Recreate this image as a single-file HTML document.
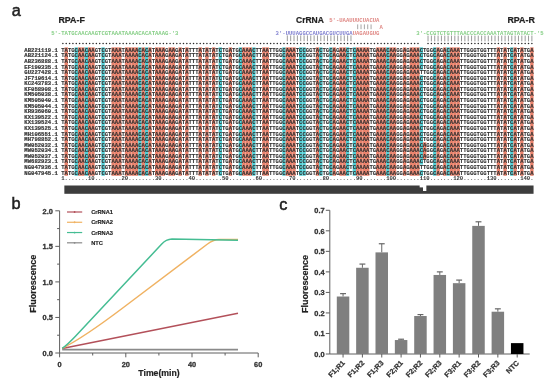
<!DOCTYPE html>
<html><head><meta charset="utf-8"><style>
html,body{margin:0;padding:0;background:#fff;width:550px;height:387px;overflow:hidden;}
svg{display:block;will-change:transform;}
</style></head><body>
<svg width="550" height="387" viewBox="0 0 550 387">
<rect width="550" height="387" fill="#fff"/>
<rect x="64.55" y="47.36" width="3.35" height="128.41" fill="#e9826c"/>
<rect x="74.60" y="47.36" width="3.35" height="128.41" fill="#52d0d6"/>
<rect x="77.95" y="47.36" width="3.35" height="128.41" fill="#e9826c"/>
<rect x="81.30" y="47.36" width="3.35" height="128.41" fill="#e9826c"/>
<rect x="84.65" y="47.36" width="3.35" height="128.41" fill="#52d0d6"/>
<rect x="88.00" y="47.36" width="3.35" height="128.41" fill="#e9826c"/>
<rect x="91.35" y="47.36" width="3.35" height="128.41" fill="#e9826c"/>
<rect x="101.40" y="47.36" width="3.35" height="128.41" fill="#52d0d6"/>
<rect x="111.45" y="47.36" width="3.35" height="128.41" fill="#e9826c"/>
<rect x="114.80" y="47.36" width="3.35" height="128.41" fill="#e9826c"/>
<rect x="118.15" y="47.36" width="3.35" height="128.41" fill="#e9826c"/>
<rect x="124.85" y="47.36" width="3.35" height="128.41" fill="#e9826c"/>
<rect x="128.20" y="47.36" width="3.35" height="128.41" fill="#e9826c"/>
<rect x="131.55" y="47.36" width="3.35" height="128.41" fill="#e9826c"/>
<rect x="134.90" y="47.36" width="3.35" height="128.41" fill="#e9826c"/>
<rect x="138.25" y="47.36" width="3.35" height="128.41" fill="#52d0d6"/>
<rect x="141.60" y="47.36" width="3.35" height="128.41" fill="#e9826c"/>
<rect x="144.95" y="47.36" width="3.35" height="128.41" fill="#52d0d6"/>
<rect x="148.30" y="47.36" width="3.35" height="128.41" fill="#e9826c"/>
<rect x="155.00" y="47.36" width="3.35" height="128.41" fill="#e9826c"/>
<rect x="158.35" y="47.36" width="3.35" height="128.41" fill="#e9826c"/>
<rect x="161.70" y="47.36" width="3.35" height="128.41" fill="#e9826c"/>
<rect x="168.40" y="47.36" width="3.35" height="128.41" fill="#e9826c"/>
<rect x="171.75" y="47.36" width="3.35" height="128.41" fill="#e9826c"/>
<rect x="178.45" y="47.36" width="3.35" height="128.41" fill="#e9826c"/>
<rect x="185.15" y="47.36" width="3.35" height="128.41" fill="#e9826c"/>
<rect x="198.55" y="47.36" width="3.35" height="128.41" fill="#e9826c"/>
<rect x="205.25" y="47.36" width="3.35" height="128.41" fill="#e9826c"/>
<rect x="211.95" y="47.36" width="3.35" height="128.41" fill="#e9826c"/>
<rect x="218.65" y="47.36" width="3.35" height="128.41" fill="#52d0d6"/>
<rect x="228.70" y="47.36" width="3.35" height="128.41" fill="#e9826c"/>
<rect x="238.75" y="47.36" width="3.35" height="128.41" fill="#52d0d6"/>
<rect x="242.10" y="47.36" width="3.35" height="128.41" fill="#e9826c"/>
<rect x="245.45" y="47.36" width="3.35" height="128.41" fill="#e9826c"/>
<rect x="248.80" y="47.36" width="3.35" height="128.41" fill="#e9826c"/>
<rect x="252.15" y="47.36" width="3.35" height="128.41" fill="#52d0d6"/>
<rect x="262.20" y="47.36" width="3.35" height="128.41" fill="#e9826c"/>
<rect x="265.55" y="47.36" width="3.35" height="128.41" fill="#e9826c"/>
<rect x="282.30" y="47.36" width="3.35" height="128.41" fill="#52d0d6"/>
<rect x="285.65" y="47.36" width="3.35" height="128.41" fill="#e9826c"/>
<rect x="289.00" y="47.36" width="3.35" height="128.41" fill="#e9826c"/>
<rect x="292.35" y="47.36" width="3.35" height="128.41" fill="#e9826c"/>
<rect x="299.05" y="47.36" width="3.35" height="128.41" fill="#52d0d6"/>
<rect x="302.40" y="47.36" width="3.35" height="128.41" fill="#52d0d6"/>
<rect x="315.80" y="47.36" width="3.35" height="128.41" fill="#e9826c"/>
<rect x="319.15" y="47.36" width="3.35" height="128.41" fill="#52d0d6"/>
<rect x="329.20" y="47.36" width="3.35" height="128.41" fill="#52d0d6"/>
<rect x="332.55" y="47.36" width="3.35" height="128.41" fill="#e9826c"/>
<rect x="339.25" y="47.36" width="3.35" height="128.41" fill="#e9826c"/>
<rect x="342.60" y="47.36" width="3.35" height="128.41" fill="#e9826c"/>
<rect x="345.95" y="47.36" width="3.35" height="128.41" fill="#52d0d6"/>
<rect x="352.65" y="47.36" width="3.35" height="128.41" fill="#52d0d6"/>
<rect x="356.00" y="47.36" width="3.35" height="128.41" fill="#e9826c"/>
<rect x="359.35" y="47.36" width="3.35" height="128.41" fill="#e9826c"/>
<rect x="362.70" y="47.36" width="3.35" height="128.41" fill="#e9826c"/>
<rect x="366.05" y="47.36" width="3.35" height="128.41" fill="#e9826c"/>
<rect x="376.10" y="47.36" width="3.35" height="128.41" fill="#e9826c"/>
<rect x="379.45" y="47.36" width="3.35" height="128.41" fill="#e9826c"/>
<rect x="382.80" y="47.36" width="3.35" height="128.41" fill="#e9826c"/>
<rect x="386.15" y="47.36" width="3.35" height="128.41" fill="#52d0d6"/>
<rect x="389.50" y="47.36" width="3.35" height="128.41" fill="#e9826c"/>
<rect x="392.85" y="47.36" width="3.35" height="128.41" fill="#e9826c"/>
<rect x="402.90" y="47.36" width="3.35" height="128.41" fill="#e9826c"/>
<rect x="409.60" y="47.36" width="3.35" height="128.41" fill="#e9826c"/>
<rect x="412.95" y="47.36" width="3.35" height="128.41" fill="#e9826c"/>
<rect x="416.30" y="47.36" width="3.35" height="128.41" fill="#e9826c"/>
<rect x="419.65" y="47.36" width="3.35" height="22.33" fill="#52d0d6"/>
<rect x="419.65" y="75.27" width="3.35" height="89.33" fill="#52d0d6"/>
<rect x="419.65" y="170.18" width="3.35" height="5.58" fill="#52d0d6"/>
<rect x="423.00" y="142.27" width="3.35" height="16.75" fill="#e9826c"/>
<rect x="433.05" y="47.36" width="3.35" height="128.41" fill="#52d0d6"/>
<rect x="436.40" y="47.36" width="3.35" height="128.41" fill="#e9826c"/>
<rect x="443.10" y="47.36" width="3.35" height="128.41" fill="#e9826c"/>
<rect x="446.45" y="47.36" width="3.35" height="128.41" fill="#52d0d6"/>
<rect x="449.80" y="47.36" width="3.35" height="128.41" fill="#e9826c"/>
<rect x="453.15" y="47.36" width="3.35" height="128.41" fill="#e9826c"/>
<rect x="456.50" y="47.36" width="3.35" height="128.41" fill="#e9826c"/>
<rect x="496.70" y="47.36" width="3.35" height="128.41" fill="#e9826c"/>
<rect x="503.40" y="47.36" width="3.35" height="128.41" fill="#e9826c"/>
<rect x="510.10" y="47.36" width="3.35" height="128.41" fill="#52d0d6"/>
<rect x="513.45" y="47.36" width="3.35" height="128.41" fill="#e9826c"/>
<rect x="520.15" y="47.36" width="3.35" height="128.41" fill="#e9826c"/>
<rect x="530.20" y="47.36" width="3.35" height="128.41" fill="#e9826c"/>
<text x="24.35" y="51.80" font-family="Liberation Mono, monospace" font-size="5.583" font-weight="bold" fill="#3a3a3a" textLength="33.50" lengthAdjust="spacingAndGlyphs" stroke="#3a3a3a" stroke-width="0.22">AB221119.1</text>
<text x="61.20" y="51.80" font-family="Liberation Mono, monospace" font-size="5.583" font-weight="bold" fill="#303030" textLength="472.35" lengthAdjust="spacingAndGlyphs" stroke="#303030" stroke-width="0.1">TATGCAACAAGTCGTAAATAAAACACATAAAGAAGATATTTATATATCTGATGCAAACTTAATTGGCAAATCCGGTACTGCAGAACTCAAAATGAAACAAGGAGAAACTGGCAGACAAATTGGGTGGTTTATATCATATGA</text>
<text x="24.35" y="57.38" font-family="Liberation Mono, monospace" font-size="5.583" font-weight="bold" fill="#3a3a3a" textLength="33.50" lengthAdjust="spacingAndGlyphs" stroke="#3a3a3a" stroke-width="0.22">AB221124.1</text>
<text x="61.20" y="57.38" font-family="Liberation Mono, monospace" font-size="5.583" font-weight="bold" fill="#303030" textLength="472.35" lengthAdjust="spacingAndGlyphs" stroke="#303030" stroke-width="0.1">TATGCAACAAGTCGTAAATAAAACACATAAAGAAGATATTTATATATCTGATGCAAACTTAATTGGCAAATCCGGTACTGCAGAACTCAAAATGAAACAAGGAGAAACTGGCAGACAAATTGGGTGGTTTATATCATATGA</text>
<text x="24.35" y="62.97" font-family="Liberation Mono, monospace" font-size="5.583" font-weight="bold" fill="#3a3a3a" textLength="33.50" lengthAdjust="spacingAndGlyphs" stroke="#3a3a3a" stroke-width="0.22">AB236888.1</text>
<text x="61.20" y="62.97" font-family="Liberation Mono, monospace" font-size="5.583" font-weight="bold" fill="#303030" textLength="472.35" lengthAdjust="spacingAndGlyphs" stroke="#303030" stroke-width="0.1">TATGCAACAAGTCGTAAATAAAACACATAAAGAAGATATTTATATATCTGATGCAAACTTAATTGGCAAATCCGGTACTGCAGAACTCAAAATGAAACAAGGAGAAACTGGCAGACAAATTGGGTGGTTTATATCATATGA</text>
<text x="24.35" y="68.55" font-family="Liberation Mono, monospace" font-size="5.583" font-weight="bold" fill="#3a3a3a" textLength="33.50" lengthAdjust="spacingAndGlyphs" stroke="#3a3a3a" stroke-width="0.22">EF190335.1</text>
<text x="61.20" y="68.55" font-family="Liberation Mono, monospace" font-size="5.583" font-weight="bold" fill="#303030" textLength="472.35" lengthAdjust="spacingAndGlyphs" stroke="#303030" stroke-width="0.1">TATGCAACAAGTCGTAAATAAAACACATAAAGAAGATATTTATATATCTGATGCAAACTTAATTGGCAAATCCGGTACTGCAGAACTCAAAATGAAACAAGGAGAAACTGGCAGACAAATTGGGTGGTTTATATCATATGA</text>
<text x="24.35" y="74.13" font-family="Liberation Mono, monospace" font-size="5.583" font-weight="bold" fill="#3a3a3a" textLength="33.50" lengthAdjust="spacingAndGlyphs" stroke="#3a3a3a" stroke-width="0.22">GU227428.1</text>
<text x="61.20" y="74.13" font-family="Liberation Mono, monospace" font-size="5.583" font-weight="bold" fill="#303030" textLength="472.35" lengthAdjust="spacingAndGlyphs" stroke="#303030" stroke-width="0.1">TATGCAACAAGTCGTAAATAAAACACATAAAGAAGATATTTATATATCTGATGCAAACTTAATTGGCAAATCCGGTACTGCAGAACTCAAAATGAAACAAGGAGAAATTGGCAGACAAATTGGGTGGTTTATATCATATGA</text>
<text x="24.35" y="79.72" font-family="Liberation Mono, monospace" font-size="5.583" font-weight="bold" fill="#3a3a3a" textLength="33.50" lengthAdjust="spacingAndGlyphs" stroke="#3a3a3a" stroke-width="0.22">JF710614.1</text>
<text x="61.20" y="79.72" font-family="Liberation Mono, monospace" font-size="5.583" font-weight="bold" fill="#303030" textLength="472.35" lengthAdjust="spacingAndGlyphs" stroke="#303030" stroke-width="0.1">TATGCAACAAGTCGTAAATAAAACACATAAAGAAGATATTTATATATCTGATGCAAACTTAATTGGCAAATCCGGTACTGCAGAACTCAAAATGAAACAAGGAGAAACTGGCAGACAAATTGGGTGGTTTATATCATATGA</text>
<text x="24.35" y="85.30" font-family="Liberation Mono, monospace" font-size="5.583" font-weight="bold" fill="#3a3a3a" textLength="33.50" lengthAdjust="spacingAndGlyphs" stroke="#3a3a3a" stroke-width="0.22">KC243783.1</text>
<text x="61.20" y="85.30" font-family="Liberation Mono, monospace" font-size="5.583" font-weight="bold" fill="#303030" textLength="472.35" lengthAdjust="spacingAndGlyphs" stroke="#303030" stroke-width="0.1">TATGCAACAAGTCGTAAATAAAACACATAAAGAAGATATTTATATATCTGATGCAAACTTAATTGGCAAATCCGGTACTGCAGAACTCAAAATGAAACAAGGAGAAACTGGCAGACAAATTGGGTGGTTTATATCATATGA</text>
<text x="24.35" y="90.88" font-family="Liberation Mono, monospace" font-size="5.583" font-weight="bold" fill="#3a3a3a" textLength="33.50" lengthAdjust="spacingAndGlyphs" stroke="#3a3a3a" stroke-width="0.22">KF058908.1</text>
<text x="61.20" y="90.88" font-family="Liberation Mono, monospace" font-size="5.583" font-weight="bold" fill="#303030" textLength="472.35" lengthAdjust="spacingAndGlyphs" stroke="#303030" stroke-width="0.1">TATGCAACAAGTCGTAAATAAAACACATAAAGAAGATATTTATATATCTGATGCAAACTTAATTGGCAAATCCGGTACTGCAGAACTCAAAATGAAACAAGGAGAAACTGGCAGACAAATTGGGTGGTTTATATCATATGA</text>
<text x="24.35" y="96.46" font-family="Liberation Mono, monospace" font-size="5.583" font-weight="bold" fill="#3a3a3a" textLength="33.50" lengthAdjust="spacingAndGlyphs" stroke="#3a3a3a" stroke-width="0.22">KM505038.1</text>
<text x="61.20" y="96.46" font-family="Liberation Mono, monospace" font-size="5.583" font-weight="bold" fill="#303030" textLength="472.35" lengthAdjust="spacingAndGlyphs" stroke="#303030" stroke-width="0.1">TATGCAACAAGTCGTAAATAAAACACATAAAGAAGATATTTATATATCTGATGCAAACTTAATTGGCAAATCCGGTACTGCAGAACTCAAAATGAAACAAGGAGAAACTGGCAGACAAATTGGGTGGTTTATATCATATGA</text>
<text x="24.35" y="102.05" font-family="Liberation Mono, monospace" font-size="5.583" font-weight="bold" fill="#3a3a3a" textLength="33.50" lengthAdjust="spacingAndGlyphs" stroke="#3a3a3a" stroke-width="0.22">KM505040.1</text>
<text x="61.20" y="102.05" font-family="Liberation Mono, monospace" font-size="5.583" font-weight="bold" fill="#303030" textLength="472.35" lengthAdjust="spacingAndGlyphs" stroke="#303030" stroke-width="0.1">TATGCAACAAGTCGTAAATAAAACACATAAAGAAGATATTTATATATCTGATGCAAACTTAATTGGCAAATCCGGTACTGCAGAACTCAAAATGAAACAAGGAGAAACTGGCAGACAAATTGGGTGGTTTATATCATATGA</text>
<text x="24.35" y="107.63" font-family="Liberation Mono, monospace" font-size="5.583" font-weight="bold" fill="#3a3a3a" textLength="33.50" lengthAdjust="spacingAndGlyphs" stroke="#3a3a3a" stroke-width="0.22">KM505044.1</text>
<text x="61.20" y="107.63" font-family="Liberation Mono, monospace" font-size="5.583" font-weight="bold" fill="#303030" textLength="472.35" lengthAdjust="spacingAndGlyphs" stroke="#303030" stroke-width="0.1">TATGCAACAAGTCGTAAATAAAACACATAAAGAAGATATTTATATATCTGATGCAAACTTAATTGGCAAATCCGGTACTGCAGAACTCAAAATGAAACAAGGAGAAACTGGCAGACAAATTGGGTGGTTTATATCATATGA</text>
<text x="24.35" y="113.21" font-family="Liberation Mono, monospace" font-size="5.583" font-weight="bold" fill="#3a3a3a" textLength="33.50" lengthAdjust="spacingAndGlyphs" stroke="#3a3a3a" stroke-width="0.22">KR936060.1</text>
<text x="61.20" y="113.21" font-family="Liberation Mono, monospace" font-size="5.583" font-weight="bold" fill="#303030" textLength="472.35" lengthAdjust="spacingAndGlyphs" stroke="#303030" stroke-width="0.1">TATGCAACAAGTCGTAAATAAAACACATAAAGAAGATATTTATATATCTGATGCAAACTTAATTGGCAAATCCGGTACTGCAGAACTCAAAATGAAACAAGGAGAAACTGGCAGACAAATTGGGTGGTTTATATCATATGA</text>
<text x="24.35" y="118.80" font-family="Liberation Mono, monospace" font-size="5.583" font-weight="bold" fill="#3a3a3a" textLength="33.50" lengthAdjust="spacingAndGlyphs" stroke="#3a3a3a" stroke-width="0.22">KX139522.1</text>
<text x="61.20" y="118.80" font-family="Liberation Mono, monospace" font-size="5.583" font-weight="bold" fill="#303030" textLength="472.35" lengthAdjust="spacingAndGlyphs" stroke="#303030" stroke-width="0.1">TATGCAACAAGTCGTAAATAAAACACATAAAGAAGATATTTATATATCTGATGCAAACTTAATTGGCAAATCCGGTACTGCAGAACTCAAAATGAAACAAGGAGAAACTGGCAGACAAATTGGGTGGTTTATATCATATGA</text>
<text x="24.35" y="124.38" font-family="Liberation Mono, monospace" font-size="5.583" font-weight="bold" fill="#3a3a3a" textLength="33.50" lengthAdjust="spacingAndGlyphs" stroke="#3a3a3a" stroke-width="0.22">KX139524.1</text>
<text x="61.20" y="124.38" font-family="Liberation Mono, monospace" font-size="5.583" font-weight="bold" fill="#303030" textLength="472.35" lengthAdjust="spacingAndGlyphs" stroke="#303030" stroke-width="0.1">TATGCAACAAGTCGTAAATAAAACACATAAAGAAGATATTTATATATCTGATGCAAACTTAATTGGCAAATCCGGTACTGCAGAACTCAAAATGAAACAAGGAGAAACTGGCAGACAAATTGGGTGGTTTATATCATATGA</text>
<text x="24.35" y="129.96" font-family="Liberation Mono, monospace" font-size="5.583" font-weight="bold" fill="#3a3a3a" textLength="33.50" lengthAdjust="spacingAndGlyphs" stroke="#3a3a3a" stroke-width="0.22">KX139525.1</text>
<text x="61.20" y="129.96" font-family="Liberation Mono, monospace" font-size="5.583" font-weight="bold" fill="#303030" textLength="472.35" lengthAdjust="spacingAndGlyphs" stroke="#303030" stroke-width="0.1">TATGCAACAAGTCGTAAATAAAACACATAAAGAAGATATTTATATATCTGATGCAAACTTAATTGGCAAATCCGGTACTGCAGAACTCAAAATGAAACAAGGAGAAACTGGCAGACAAATTGGGTGGTTTATATCATATGA</text>
<text x="24.35" y="135.55" font-family="Liberation Mono, monospace" font-size="5.583" font-weight="bold" fill="#3a3a3a" textLength="33.50" lengthAdjust="spacingAndGlyphs" stroke="#3a3a3a" stroke-width="0.22">MH106551.1</text>
<text x="61.20" y="135.55" font-family="Liberation Mono, monospace" font-size="5.583" font-weight="bold" fill="#303030" textLength="472.35" lengthAdjust="spacingAndGlyphs" stroke="#303030" stroke-width="0.1">TATGCAACAAGTCGTAAATAAAACACATAAAGAAGATATTTATATATCTGATGCAAACTTAATTGGCAAATCCGGTACTGCAGAACTCAAAATGAAACAAGGAGAAACTGGCAGACAAATTGGGTGGTTTATATCATATGA</text>
<text x="24.35" y="141.13" font-family="Liberation Mono, monospace" font-size="5.583" font-weight="bold" fill="#3a3a3a" textLength="33.50" lengthAdjust="spacingAndGlyphs" stroke="#3a3a3a" stroke-width="0.22">MH798852.1</text>
<text x="61.20" y="141.13" font-family="Liberation Mono, monospace" font-size="5.583" font-weight="bold" fill="#303030" textLength="472.35" lengthAdjust="spacingAndGlyphs" stroke="#303030" stroke-width="0.1">TATGCAACAAGTCGTAAATAAAACACATAAAGAAGATATTTATATATCTGATGCAAACTTAATTGGCAAATCCGGTACTGCAGAACTCAAAATGAAACAAGGAGAAACTGGCAGACAAATTGGGTGGTTTATATCATATGA</text>
<text x="24.35" y="146.71" font-family="Liberation Mono, monospace" font-size="5.583" font-weight="bold" fill="#3a3a3a" textLength="33.50" lengthAdjust="spacingAndGlyphs" stroke="#3a3a3a" stroke-width="0.22">MW052032.1</text>
<text x="61.20" y="146.71" font-family="Liberation Mono, monospace" font-size="5.583" font-weight="bold" fill="#303030" textLength="472.35" lengthAdjust="spacingAndGlyphs" stroke="#303030" stroke-width="0.1">TATGCAACAAGTCGTAAATAAAACACATAAAGAAGATATTTATATATCTGATGCAAACTTAATTGGCAAATCCGGTACTGCAGAACTCAAAATGAAACAAGGAGAAACAGGCAGACAAATTGGGTGGTTTATATCATATGA</text>
<text x="24.35" y="152.29" font-family="Liberation Mono, monospace" font-size="5.583" font-weight="bold" fill="#3a3a3a" textLength="33.50" lengthAdjust="spacingAndGlyphs" stroke="#3a3a3a" stroke-width="0.22">MW052034.1</text>
<text x="61.20" y="152.29" font-family="Liberation Mono, monospace" font-size="5.583" font-weight="bold" fill="#303030" textLength="472.35" lengthAdjust="spacingAndGlyphs" stroke="#303030" stroke-width="0.1">TATGCAACAAGTCGTAAATAAAACACATAAAGAAGATATTTATATATCTGATGCAAACTTAATTGGCAAATCCGGTACTGCAGAACTCAAAATGAAACAAGGAGAAACAGGCAGACAAATTGGGTGGTTTATATCATATGA</text>
<text x="24.35" y="157.88" font-family="Liberation Mono, monospace" font-size="5.583" font-weight="bold" fill="#3a3a3a" textLength="33.50" lengthAdjust="spacingAndGlyphs" stroke="#3a3a3a" stroke-width="0.22">MW052037.1</text>
<text x="61.20" y="157.88" font-family="Liberation Mono, monospace" font-size="5.583" font-weight="bold" fill="#303030" textLength="472.35" lengthAdjust="spacingAndGlyphs" stroke="#303030" stroke-width="0.1">TATGCAACAAGTCGTAAATAAAACACATAAAGAAGATATTTATATATCTGATGCAAACTTAATTGGCAAATCCGGTACTGCAGAACTCAAAATGAAACAAGGAGAAACAGGCAGACAAATTGGGTGGTTTATATCATATGA</text>
<text x="24.35" y="163.46" font-family="Liberation Mono, monospace" font-size="5.583" font-weight="bold" fill="#3a3a3a" textLength="33.50" lengthAdjust="spacingAndGlyphs" stroke="#3a3a3a" stroke-width="0.22">MW682923.1</text>
<text x="61.20" y="163.46" font-family="Liberation Mono, monospace" font-size="5.583" font-weight="bold" fill="#303030" textLength="472.35" lengthAdjust="spacingAndGlyphs" stroke="#303030" stroke-width="0.1">TATGCAACAAGTCGTAAATAAAACACATAAAGAAGATATTTATATATCTGATGCAAACTTAATTGGCAAATCCGGTACTGCAGAACTCAAAATGAAACAAGGAGAAACTGGCAGACAAATTGGGTGGTTTATATCATATGA</text>
<text x="24.35" y="169.04" font-family="Liberation Mono, monospace" font-size="5.583" font-weight="bold" fill="#3a3a3a" textLength="33.50" lengthAdjust="spacingAndGlyphs" stroke="#3a3a3a" stroke-width="0.22">NG047936.1</text>
<text x="61.20" y="169.04" font-family="Liberation Mono, monospace" font-size="5.583" font-weight="bold" fill="#303030" textLength="472.35" lengthAdjust="spacingAndGlyphs" stroke="#303030" stroke-width="0.1">TATGCAACAAGTCGTAAATAAAACACATAAAGAAGATATTTATATATCTGATGCAAACTTAATTGGCAAATCCGGTACTGCAGAACTCAAAATGAAACAAGGAGAAATTGGCAGACAAATTGGGTGGTTTATATCATATGA</text>
<text x="24.35" y="174.63" font-family="Liberation Mono, monospace" font-size="5.583" font-weight="bold" fill="#3a3a3a" textLength="33.50" lengthAdjust="spacingAndGlyphs" stroke="#3a3a3a" stroke-width="0.22">NG047945.1</text>
<text x="61.20" y="174.63" font-family="Liberation Mono, monospace" font-size="5.583" font-weight="bold" fill="#303030" textLength="472.35" lengthAdjust="spacingAndGlyphs" stroke="#303030" stroke-width="0.1">TATGCAACAAGTCGTAAATAAAACACATAAAGAAGATATTTATATATCTGATGCAAACTTAATTGGCAAATCCGGTACTGCAGAACTCAAAATGAAACAAGGAGAAACTGGCAGACAAATTGGGTGGTTTATATCATATGA</text>
<circle cx="62.88" cy="43.5" r="0.78" fill="#2a2a2a"/>
<circle cx="66.22" cy="43.5" r="0.78" fill="#2a2a2a"/>
<circle cx="69.58" cy="43.5" r="0.78" fill="#2a2a2a"/>
<circle cx="72.92" cy="43.5" r="0.78" fill="#2a2a2a"/>
<circle cx="76.28" cy="43.5" r="0.78" fill="#2a2a2a"/>
<circle cx="79.62" cy="43.5" r="0.78" fill="#2a2a2a"/>
<circle cx="82.98" cy="43.5" r="0.78" fill="#2a2a2a"/>
<circle cx="86.33" cy="43.5" r="0.78" fill="#2a2a2a"/>
<circle cx="89.67" cy="43.5" r="0.78" fill="#2a2a2a"/>
<circle cx="93.03" cy="43.5" r="0.78" fill="#2a2a2a"/>
<circle cx="96.38" cy="43.5" r="0.78" fill="#2a2a2a"/>
<circle cx="99.73" cy="43.5" r="0.78" fill="#2a2a2a"/>
<circle cx="103.08" cy="43.5" r="0.78" fill="#2a2a2a"/>
<circle cx="106.42" cy="43.5" r="0.78" fill="#2a2a2a"/>
<circle cx="109.77" cy="43.5" r="0.78" fill="#2a2a2a"/>
<circle cx="113.12" cy="43.5" r="0.78" fill="#2a2a2a"/>
<circle cx="116.48" cy="43.5" r="0.78" fill="#2a2a2a"/>
<circle cx="119.83" cy="43.5" r="0.78" fill="#2a2a2a"/>
<circle cx="123.17" cy="43.5" r="0.78" fill="#2a2a2a"/>
<circle cx="126.52" cy="43.5" r="0.78" fill="#2a2a2a"/>
<circle cx="129.88" cy="43.5" r="0.78" fill="#2a2a2a"/>
<circle cx="133.23" cy="43.5" r="0.78" fill="#2a2a2a"/>
<circle cx="136.58" cy="43.5" r="0.78" fill="#2a2a2a"/>
<circle cx="139.93" cy="43.5" r="0.78" fill="#2a2a2a"/>
<circle cx="143.28" cy="43.5" r="0.78" fill="#2a2a2a"/>
<circle cx="146.62" cy="43.5" r="0.78" fill="#2a2a2a"/>
<circle cx="149.98" cy="43.5" r="0.78" fill="#2a2a2a"/>
<circle cx="153.33" cy="43.5" r="0.78" fill="#2a2a2a"/>
<circle cx="156.68" cy="43.5" r="0.78" fill="#2a2a2a"/>
<circle cx="160.03" cy="43.5" r="0.78" fill="#2a2a2a"/>
<circle cx="163.38" cy="43.5" r="0.78" fill="#2a2a2a"/>
<circle cx="166.73" cy="43.5" r="0.78" fill="#2a2a2a"/>
<circle cx="170.08" cy="43.5" r="0.78" fill="#2a2a2a"/>
<circle cx="173.43" cy="43.5" r="0.78" fill="#2a2a2a"/>
<circle cx="176.78" cy="43.5" r="0.78" fill="#2a2a2a"/>
<circle cx="180.12" cy="43.5" r="0.78" fill="#2a2a2a"/>
<circle cx="183.48" cy="43.5" r="0.78" fill="#2a2a2a"/>
<circle cx="186.83" cy="43.5" r="0.78" fill="#2a2a2a"/>
<circle cx="190.18" cy="43.5" r="0.78" fill="#2a2a2a"/>
<circle cx="193.53" cy="43.5" r="0.78" fill="#2a2a2a"/>
<circle cx="196.88" cy="43.5" r="0.78" fill="#2a2a2a"/>
<circle cx="200.23" cy="43.5" r="0.78" fill="#2a2a2a"/>
<circle cx="203.58" cy="43.5" r="0.78" fill="#2a2a2a"/>
<circle cx="206.93" cy="43.5" r="0.78" fill="#2a2a2a"/>
<circle cx="210.28" cy="43.5" r="0.78" fill="#2a2a2a"/>
<circle cx="213.62" cy="43.5" r="0.78" fill="#2a2a2a"/>
<circle cx="216.98" cy="43.5" r="0.78" fill="#2a2a2a"/>
<circle cx="220.33" cy="43.5" r="0.78" fill="#2a2a2a"/>
<circle cx="223.68" cy="43.5" r="0.78" fill="#2a2a2a"/>
<circle cx="227.03" cy="43.5" r="0.78" fill="#2a2a2a"/>
<circle cx="230.38" cy="43.5" r="0.78" fill="#2a2a2a"/>
<circle cx="233.73" cy="43.5" r="0.78" fill="#2a2a2a"/>
<circle cx="237.08" cy="43.5" r="0.78" fill="#2a2a2a"/>
<circle cx="240.43" cy="43.5" r="0.78" fill="#2a2a2a"/>
<circle cx="243.78" cy="43.5" r="0.78" fill="#2a2a2a"/>
<circle cx="247.12" cy="43.5" r="0.78" fill="#2a2a2a"/>
<circle cx="250.48" cy="43.5" r="0.78" fill="#2a2a2a"/>
<circle cx="253.83" cy="43.5" r="0.78" fill="#2a2a2a"/>
<circle cx="257.18" cy="43.5" r="0.78" fill="#2a2a2a"/>
<circle cx="260.53" cy="43.5" r="0.78" fill="#2a2a2a"/>
<circle cx="263.88" cy="43.5" r="0.78" fill="#2a2a2a"/>
<circle cx="267.23" cy="43.5" r="0.78" fill="#2a2a2a"/>
<circle cx="270.58" cy="43.5" r="0.78" fill="#2a2a2a"/>
<circle cx="273.93" cy="43.5" r="0.78" fill="#2a2a2a"/>
<circle cx="277.28" cy="43.5" r="0.78" fill="#2a2a2a"/>
<circle cx="280.62" cy="43.5" r="0.78" fill="#2a2a2a"/>
<circle cx="283.98" cy="43.5" r="0.78" fill="#2a2a2a"/>
<circle cx="287.33" cy="43.5" r="0.78" fill="#2a2a2a"/>
<circle cx="290.68" cy="43.5" r="0.78" fill="#2a2a2a"/>
<circle cx="294.03" cy="43.5" r="0.78" fill="#2a2a2a"/>
<circle cx="297.38" cy="43.5" r="0.78" fill="#2a2a2a"/>
<circle cx="300.73" cy="43.5" r="0.78" fill="#2a2a2a"/>
<circle cx="304.08" cy="43.5" r="0.78" fill="#2a2a2a"/>
<circle cx="307.43" cy="43.5" r="0.78" fill="#2a2a2a"/>
<circle cx="310.78" cy="43.5" r="0.78" fill="#2a2a2a"/>
<circle cx="314.12" cy="43.5" r="0.78" fill="#2a2a2a"/>
<circle cx="317.48" cy="43.5" r="0.78" fill="#2a2a2a"/>
<circle cx="320.82" cy="43.5" r="0.78" fill="#2a2a2a"/>
<circle cx="324.18" cy="43.5" r="0.78" fill="#2a2a2a"/>
<circle cx="327.53" cy="43.5" r="0.78" fill="#2a2a2a"/>
<circle cx="330.88" cy="43.5" r="0.78" fill="#2a2a2a"/>
<circle cx="334.23" cy="43.5" r="0.78" fill="#2a2a2a"/>
<circle cx="337.57" cy="43.5" r="0.78" fill="#2a2a2a"/>
<circle cx="340.93" cy="43.5" r="0.78" fill="#2a2a2a"/>
<circle cx="344.28" cy="43.5" r="0.78" fill="#2a2a2a"/>
<circle cx="347.62" cy="43.5" r="0.78" fill="#2a2a2a"/>
<circle cx="350.98" cy="43.5" r="0.78" fill="#2a2a2a"/>
<circle cx="354.32" cy="43.5" r="0.78" fill="#2a2a2a"/>
<circle cx="357.68" cy="43.5" r="0.78" fill="#2a2a2a"/>
<circle cx="361.03" cy="43.5" r="0.78" fill="#2a2a2a"/>
<circle cx="364.38" cy="43.5" r="0.78" fill="#2a2a2a"/>
<circle cx="367.73" cy="43.5" r="0.78" fill="#2a2a2a"/>
<circle cx="371.07" cy="43.5" r="0.78" fill="#2a2a2a"/>
<circle cx="374.43" cy="43.5" r="0.78" fill="#2a2a2a"/>
<circle cx="377.78" cy="43.5" r="0.78" fill="#2a2a2a"/>
<circle cx="381.12" cy="43.5" r="0.78" fill="#2a2a2a"/>
<circle cx="384.48" cy="43.5" r="0.78" fill="#2a2a2a"/>
<circle cx="387.82" cy="43.5" r="0.78" fill="#2a2a2a"/>
<circle cx="391.18" cy="43.5" r="0.78" fill="#2a2a2a"/>
<circle cx="394.53" cy="43.5" r="0.78" fill="#2a2a2a"/>
<circle cx="397.88" cy="43.5" r="0.78" fill="#2a2a2a"/>
<circle cx="401.23" cy="43.5" r="0.78" fill="#2a2a2a"/>
<circle cx="404.57" cy="43.5" r="0.78" fill="#2a2a2a"/>
<circle cx="407.93" cy="43.5" r="0.78" fill="#2a2a2a"/>
<circle cx="411.28" cy="43.5" r="0.78" fill="#2a2a2a"/>
<circle cx="414.62" cy="43.5" r="0.78" fill="#2a2a2a"/>
<circle cx="417.98" cy="43.5" r="0.78" fill="#2a2a2a"/>
<circle cx="428.03" cy="43.5" r="0.78" fill="#2a2a2a"/>
<circle cx="431.38" cy="43.5" r="0.78" fill="#2a2a2a"/>
<circle cx="434.73" cy="43.5" r="0.78" fill="#2a2a2a"/>
<circle cx="438.07" cy="43.5" r="0.78" fill="#2a2a2a"/>
<circle cx="441.43" cy="43.5" r="0.78" fill="#2a2a2a"/>
<circle cx="444.78" cy="43.5" r="0.78" fill="#2a2a2a"/>
<circle cx="448.12" cy="43.5" r="0.78" fill="#2a2a2a"/>
<circle cx="451.48" cy="43.5" r="0.78" fill="#2a2a2a"/>
<circle cx="454.82" cy="43.5" r="0.78" fill="#2a2a2a"/>
<circle cx="458.18" cy="43.5" r="0.78" fill="#2a2a2a"/>
<circle cx="461.53" cy="43.5" r="0.78" fill="#2a2a2a"/>
<circle cx="464.88" cy="43.5" r="0.78" fill="#2a2a2a"/>
<circle cx="468.23" cy="43.5" r="0.78" fill="#2a2a2a"/>
<circle cx="471.57" cy="43.5" r="0.78" fill="#2a2a2a"/>
<circle cx="474.93" cy="43.5" r="0.78" fill="#2a2a2a"/>
<circle cx="478.28" cy="43.5" r="0.78" fill="#2a2a2a"/>
<circle cx="481.62" cy="43.5" r="0.78" fill="#2a2a2a"/>
<circle cx="484.98" cy="43.5" r="0.78" fill="#2a2a2a"/>
<circle cx="488.32" cy="43.5" r="0.78" fill="#2a2a2a"/>
<circle cx="491.68" cy="43.5" r="0.78" fill="#2a2a2a"/>
<circle cx="495.03" cy="43.5" r="0.78" fill="#2a2a2a"/>
<circle cx="498.38" cy="43.5" r="0.78" fill="#2a2a2a"/>
<circle cx="501.73" cy="43.5" r="0.78" fill="#2a2a2a"/>
<circle cx="505.07" cy="43.5" r="0.78" fill="#2a2a2a"/>
<circle cx="508.43" cy="43.5" r="0.78" fill="#2a2a2a"/>
<circle cx="511.78" cy="43.5" r="0.78" fill="#2a2a2a"/>
<circle cx="515.12" cy="43.5" r="0.78" fill="#2a2a2a"/>
<circle cx="518.48" cy="43.5" r="0.78" fill="#2a2a2a"/>
<circle cx="521.82" cy="43.5" r="0.78" fill="#2a2a2a"/>
<circle cx="525.17" cy="43.5" r="0.78" fill="#2a2a2a"/>
<circle cx="528.52" cy="43.5" r="0.78" fill="#2a2a2a"/>
<circle cx="531.88" cy="43.5" r="0.78" fill="#2a2a2a"/>
<text x="61.20" y="180.21" font-family="Liberation Mono, monospace" font-size="5.583" font-weight="bold" fill="#333" textLength="472.35" lengthAdjust="spacingAndGlyphs" >1.......10........20........30........40........50........60........70........80........90.......100.......110.......120.......130.......140.</text>
<rect x="64.35" y="185.5" width="469.20" height="8.3" fill="#3d3d3d"/>
<rect x="419.65" y="185.0" width="3.35" height="2.4" fill="#fff"/>
<rect x="423.00" y="185.0" width="3.35" height="6.0" fill="#fff"/>
<text x="51.15" y="34.65" font-family="Liberation Mono, monospace" font-size="5.583" font-weight="bold" fill="#86cf86" textLength="127.30" lengthAdjust="spacingAndGlyphs" >5'-TATGCAACAAGTCGTAAATAAAACACATAAAG-'3</text>
<text x="416.30" y="34.65" font-family="Liberation Mono, monospace" font-size="5.583" font-weight="bold" fill="#86cf86" textLength="127.30" lengthAdjust="spacingAndGlyphs" >3'-CCGTCTGTTTAACCCACCAAATATAGTATACT-'5</text>
<line x1="428.03" y1="35.6" x2="428.03" y2="41.4" stroke="#7a7a7a" stroke-width="0.75"/>
<line x1="431.38" y1="35.6" x2="431.38" y2="41.4" stroke="#7a7a7a" stroke-width="0.75"/>
<line x1="434.73" y1="35.6" x2="434.73" y2="41.4" stroke="#7a7a7a" stroke-width="0.75"/>
<line x1="438.07" y1="35.6" x2="438.07" y2="41.4" stroke="#7a7a7a" stroke-width="0.75"/>
<line x1="441.43" y1="35.6" x2="441.43" y2="41.4" stroke="#7a7a7a" stroke-width="0.75"/>
<line x1="444.78" y1="35.6" x2="444.78" y2="41.4" stroke="#7a7a7a" stroke-width="0.75"/>
<line x1="448.12" y1="35.6" x2="448.12" y2="41.4" stroke="#7a7a7a" stroke-width="0.75"/>
<line x1="451.48" y1="35.6" x2="451.48" y2="41.4" stroke="#7a7a7a" stroke-width="0.75"/>
<line x1="454.82" y1="35.6" x2="454.82" y2="41.4" stroke="#7a7a7a" stroke-width="0.75"/>
<line x1="458.18" y1="35.6" x2="458.18" y2="41.4" stroke="#7a7a7a" stroke-width="0.75"/>
<line x1="461.53" y1="35.6" x2="461.53" y2="41.4" stroke="#7a7a7a" stroke-width="0.75"/>
<line x1="464.88" y1="35.6" x2="464.88" y2="41.4" stroke="#7a7a7a" stroke-width="0.75"/>
<line x1="468.23" y1="35.6" x2="468.23" y2="41.4" stroke="#7a7a7a" stroke-width="0.75"/>
<line x1="471.57" y1="35.6" x2="471.57" y2="41.4" stroke="#7a7a7a" stroke-width="0.75"/>
<line x1="474.93" y1="35.6" x2="474.93" y2="41.4" stroke="#7a7a7a" stroke-width="0.75"/>
<line x1="478.28" y1="35.6" x2="478.28" y2="41.4" stroke="#7a7a7a" stroke-width="0.75"/>
<line x1="481.62" y1="35.6" x2="481.62" y2="41.4" stroke="#7a7a7a" stroke-width="0.75"/>
<line x1="484.98" y1="35.6" x2="484.98" y2="41.4" stroke="#7a7a7a" stroke-width="0.75"/>
<line x1="488.32" y1="35.6" x2="488.32" y2="41.4" stroke="#7a7a7a" stroke-width="0.75"/>
<line x1="491.68" y1="35.6" x2="491.68" y2="41.4" stroke="#7a7a7a" stroke-width="0.75"/>
<line x1="495.03" y1="35.6" x2="495.03" y2="41.4" stroke="#7a7a7a" stroke-width="0.75"/>
<line x1="498.38" y1="35.6" x2="498.38" y2="41.4" stroke="#7a7a7a" stroke-width="0.75"/>
<line x1="501.73" y1="35.6" x2="501.73" y2="41.4" stroke="#7a7a7a" stroke-width="0.75"/>
<line x1="505.07" y1="35.6" x2="505.07" y2="41.4" stroke="#7a7a7a" stroke-width="0.75"/>
<line x1="508.43" y1="35.6" x2="508.43" y2="41.4" stroke="#7a7a7a" stroke-width="0.75"/>
<line x1="511.78" y1="35.6" x2="511.78" y2="41.4" stroke="#7a7a7a" stroke-width="0.75"/>
<line x1="515.12" y1="35.6" x2="515.12" y2="41.4" stroke="#7a7a7a" stroke-width="0.75"/>
<line x1="518.48" y1="35.6" x2="518.48" y2="41.4" stroke="#7a7a7a" stroke-width="0.75"/>
<line x1="521.82" y1="35.6" x2="521.82" y2="41.4" stroke="#7a7a7a" stroke-width="0.75"/>
<line x1="525.17" y1="35.6" x2="525.17" y2="41.4" stroke="#7a7a7a" stroke-width="0.75"/>
<line x1="528.52" y1="35.6" x2="528.52" y2="41.4" stroke="#7a7a7a" stroke-width="0.75"/>
<line x1="531.88" y1="35.6" x2="531.88" y2="41.4" stroke="#7a7a7a" stroke-width="0.75"/>
<text x="275.60" y="34.65" font-family="Liberation Mono, monospace" font-size="5.583" font-weight="bold" fill="#8080d0" textLength="10.05" lengthAdjust="spacingAndGlyphs" >3'-</text>
<text x="285.65" y="34.65" font-family="Liberation Mono, monospace" font-size="5.583" font-weight="bold" fill="#8080d0" textLength="67.00" lengthAdjust="spacingAndGlyphs" >UUUAGGCCAUGACGUCUUGA</text>
<text x="352.65" y="34.65" font-family="Liberation Mono, monospace" font-size="5.583" font-weight="bold" fill="#e08a86" textLength="26.80" lengthAdjust="spacingAndGlyphs" >UAGAUGUG</text>
<line x1="287.33" y1="35.4" x2="287.33" y2="41.2" stroke="#7a7a7a" stroke-width="0.75"/>
<line x1="290.68" y1="35.4" x2="290.68" y2="41.2" stroke="#7a7a7a" stroke-width="0.75"/>
<line x1="294.03" y1="35.4" x2="294.03" y2="41.2" stroke="#7a7a7a" stroke-width="0.75"/>
<line x1="297.38" y1="35.4" x2="297.38" y2="41.2" stroke="#7a7a7a" stroke-width="0.75"/>
<line x1="300.73" y1="35.4" x2="300.73" y2="41.2" stroke="#7a7a7a" stroke-width="0.75"/>
<line x1="304.08" y1="35.4" x2="304.08" y2="41.2" stroke="#7a7a7a" stroke-width="0.75"/>
<line x1="307.43" y1="35.4" x2="307.43" y2="41.2" stroke="#7a7a7a" stroke-width="0.75"/>
<line x1="310.78" y1="35.4" x2="310.78" y2="41.2" stroke="#7a7a7a" stroke-width="0.75"/>
<line x1="314.12" y1="35.4" x2="314.12" y2="41.2" stroke="#7a7a7a" stroke-width="0.75"/>
<line x1="317.48" y1="35.4" x2="317.48" y2="41.2" stroke="#7a7a7a" stroke-width="0.75"/>
<line x1="320.82" y1="35.4" x2="320.82" y2="41.2" stroke="#7a7a7a" stroke-width="0.75"/>
<line x1="324.18" y1="35.4" x2="324.18" y2="41.2" stroke="#7a7a7a" stroke-width="0.75"/>
<line x1="327.53" y1="35.4" x2="327.53" y2="41.2" stroke="#7a7a7a" stroke-width="0.75"/>
<line x1="330.88" y1="35.4" x2="330.88" y2="41.2" stroke="#7a7a7a" stroke-width="0.75"/>
<line x1="334.23" y1="35.4" x2="334.23" y2="41.2" stroke="#7a7a7a" stroke-width="0.75"/>
<line x1="337.57" y1="35.4" x2="337.57" y2="41.2" stroke="#7a7a7a" stroke-width="0.75"/>
<line x1="340.93" y1="35.4" x2="340.93" y2="41.2" stroke="#7a7a7a" stroke-width="0.75"/>
<line x1="344.28" y1="35.4" x2="344.28" y2="41.2" stroke="#7a7a7a" stroke-width="0.75"/>
<line x1="347.62" y1="35.4" x2="347.62" y2="41.2" stroke="#7a7a7a" stroke-width="0.75"/>
<line x1="350.98" y1="35.4" x2="350.98" y2="41.2" stroke="#7a7a7a" stroke-width="0.75"/>
<text x="329.20" y="22.05" font-family="Liberation Mono, monospace" font-size="5.583" font-weight="bold" fill="#e08a86" textLength="50.25" lengthAdjust="spacingAndGlyphs" >5'-UAAUUUCUACUA</text>
<line x1="357.68" y1="24.4" x2="357.68" y2="29.2" stroke="#888" stroke-width="0.75"/>
<line x1="361.03" y1="24.4" x2="361.03" y2="29.2" stroke="#888" stroke-width="0.75"/>
<line x1="364.38" y1="24.4" x2="364.38" y2="29.2" stroke="#888" stroke-width="0.75"/>
<line x1="367.73" y1="24.4" x2="367.73" y2="29.2" stroke="#888" stroke-width="0.75"/>
<line x1="371.07" y1="24.4" x2="371.07" y2="29.2" stroke="#888" stroke-width="0.75"/>
<text x="379.45" y="28.65" font-family="Liberation Mono, monospace" font-size="5.583" font-weight="bold" fill="#e08a86" textLength="3.35" lengthAdjust="spacingAndGlyphs" >A</text>
<text x="11.7" y="16.2" font-family="Liberation Sans, sans-serif" font-size="16.3" fill="#222" stroke="#222" stroke-width="0.5">a</text>
<text x="58.4" y="23.2" font-family="Liberation Sans, sans-serif" font-size="8.9" font-weight="bold" fill="#222" stroke="#222" stroke-width="0.2">RPA-F</text>
<text x="296" y="23" font-family="Liberation Sans, sans-serif" font-size="8.5" font-weight="bold" fill="#222" stroke="#222" stroke-width="0.2">CrRNA</text>
<text x="507.4" y="23.2" font-family="Liberation Sans, sans-serif" font-size="8.9" font-weight="bold" fill="#222" stroke="#222" stroke-width="0.2">RPA-R</text>
<text x="11.5" y="209.1" font-family="Liberation Sans, sans-serif" font-size="16.3" fill="#222" stroke="#222" stroke-width="0.5">b</text>
<path d="M59.60,210.80 V353.00 H258.20" stroke="#5e5e5e" stroke-width="1" fill="none"/>
<line x1="55.30" y1="353.00" x2="59.60" y2="353.00" stroke="#5e5e5e" stroke-width="1"/>
<line x1="57.10" y1="335.23" x2="59.60" y2="335.23" stroke="#5e5e5e" stroke-width="1"/>
<line x1="55.30" y1="317.45" x2="59.60" y2="317.45" stroke="#5e5e5e" stroke-width="1"/>
<line x1="57.10" y1="299.68" x2="59.60" y2="299.68" stroke="#5e5e5e" stroke-width="1"/>
<line x1="55.30" y1="281.90" x2="59.60" y2="281.90" stroke="#5e5e5e" stroke-width="1"/>
<line x1="57.10" y1="264.12" x2="59.60" y2="264.12" stroke="#5e5e5e" stroke-width="1"/>
<line x1="55.30" y1="246.35" x2="59.60" y2="246.35" stroke="#5e5e5e" stroke-width="1"/>
<line x1="57.10" y1="228.58" x2="59.60" y2="228.58" stroke="#5e5e5e" stroke-width="1"/>
<line x1="55.30" y1="210.80" x2="59.60" y2="210.80" stroke="#5e5e5e" stroke-width="1"/>
<line x1="59.60" y1="353.00" x2="59.60" y2="357.30" stroke="#5e5e5e" stroke-width="1"/>
<line x1="92.70" y1="353.00" x2="92.70" y2="355.50" stroke="#5e5e5e" stroke-width="1"/>
<line x1="125.80" y1="353.00" x2="125.80" y2="357.30" stroke="#5e5e5e" stroke-width="1"/>
<line x1="158.90" y1="353.00" x2="158.90" y2="355.50" stroke="#5e5e5e" stroke-width="1"/>
<line x1="192.00" y1="353.00" x2="192.00" y2="357.30" stroke="#5e5e5e" stroke-width="1"/>
<line x1="225.10" y1="353.00" x2="225.10" y2="355.50" stroke="#5e5e5e" stroke-width="1"/>
<line x1="258.20" y1="353.00" x2="258.20" y2="357.30" stroke="#5e5e5e" stroke-width="1"/>
<text x="52.8" y="355.90" font-family="Liberation Sans, sans-serif" font-size="7.4" font-weight="bold" fill="#333" stroke="#333" stroke-width="0.3" text-anchor="end">0.0</text>
<text x="52.8" y="320.35" font-family="Liberation Sans, sans-serif" font-size="7.4" font-weight="bold" fill="#333" stroke="#333" stroke-width="0.3" text-anchor="end">0.5</text>
<text x="52.8" y="284.80" font-family="Liberation Sans, sans-serif" font-size="7.4" font-weight="bold" fill="#333" stroke="#333" stroke-width="0.3" text-anchor="end">1.0</text>
<text x="52.8" y="249.25" font-family="Liberation Sans, sans-serif" font-size="7.4" font-weight="bold" fill="#333" stroke="#333" stroke-width="0.3" text-anchor="end">1.5</text>
<text x="52.8" y="213.70" font-family="Liberation Sans, sans-serif" font-size="7.4" font-weight="bold" fill="#333" stroke="#333" stroke-width="0.3" text-anchor="end">2.0</text>
<text x="59.60" y="367.0" font-family="Liberation Sans, sans-serif" font-size="7.4" font-weight="bold" fill="#333" stroke="#333" stroke-width="0.3" text-anchor="middle">0</text>
<text x="125.80" y="367.0" font-family="Liberation Sans, sans-serif" font-size="7.4" font-weight="bold" fill="#333" stroke="#333" stroke-width="0.3" text-anchor="middle">20</text>
<text x="192.00" y="367.0" font-family="Liberation Sans, sans-serif" font-size="7.4" font-weight="bold" fill="#333" stroke="#333" stroke-width="0.3" text-anchor="middle">40</text>
<text x="258.20" y="367.0" font-family="Liberation Sans, sans-serif" font-size="7.4" font-weight="bold" fill="#333" stroke="#333" stroke-width="0.3" text-anchor="middle">60</text>
<text x="159" y="375.5" font-family="Liberation Sans, sans-serif" font-size="8.7" font-weight="bold" fill="#222" stroke="#222" stroke-width="0.2" text-anchor="middle">Time(min)</text>
<text transform="translate(36.3,283.8) rotate(-90)" font-family="Liberation Sans, sans-serif" font-size="9.0" font-weight="bold" fill="#222" stroke="#222" stroke-width="0.2" text-anchor="middle">Fluorescence</text>
<line x1="62.2" y1="349.6" x2="238" y2="349.6" stroke="#8a8a8a" stroke-width="1.8"/>
<path d="M62.2,348.4 L238,313.2" stroke="#b3505a" stroke-width="1.5" fill="none"/>
<path d="M62.2,348.3 C80,339.5 98.4,326.4 123.4,307.5 L207.5,244 Q213,239.5 219,239.4 L238,239.4" stroke="#f0b262" stroke-width="1.5" fill="none"/>
<path d="M62.2,348.3 Q67.7,344.4 75.7,335.9 L161.5,244.3 Q166,239.3 172,239.1 L238,240.2" stroke="#45bd93" stroke-width="1.5" fill="none"/>
<line x1="67" y1="212.00" x2="82.2" y2="212.00" stroke="#b3505a" stroke-width="1.2"/>
<circle cx="74.6" cy="212.00" r="0.9" fill="#b3505a"/>
<text x="91.2" y="214.10" font-family="Liberation Sans, sans-serif" font-size="5.7" font-weight="bold" fill="#222" stroke="#222" stroke-width="0.15">CrRNA1</text>
<line x1="67" y1="222.27" x2="82.2" y2="222.27" stroke="#f0b262" stroke-width="1.2"/>
<circle cx="74.6" cy="222.27" r="0.9" fill="#f0b262"/>
<text x="91.2" y="224.37" font-family="Liberation Sans, sans-serif" font-size="5.7" font-weight="bold" fill="#222" stroke="#222" stroke-width="0.15">CrRNA2</text>
<line x1="67" y1="232.54" x2="82.2" y2="232.54" stroke="#45bd93" stroke-width="1.2"/>
<circle cx="74.6" cy="232.54" r="0.9" fill="#45bd93"/>
<text x="91.2" y="234.64" font-family="Liberation Sans, sans-serif" font-size="5.7" font-weight="bold" fill="#222" stroke="#222" stroke-width="0.15">CrRNA3</text>
<line x1="67" y1="242.81" x2="82.2" y2="242.81" stroke="#8a8a8a" stroke-width="1.2"/>
<circle cx="74.6" cy="242.81" r="0.9" fill="#8a8a8a"/>
<text x="91.2" y="244.91" font-family="Liberation Sans, sans-serif" font-size="5.7" font-weight="bold" fill="#222" stroke="#222" stroke-width="0.15">NTC</text>
<text x="279.2" y="209.5" font-family="Liberation Sans, sans-serif" font-size="16.3" fill="#222" stroke="#222" stroke-width="0.5">c</text>
<path d="M329.8,210.29 V354.00 H529.7" stroke="#5e5e5e" stroke-width="1" fill="none"/>
<line x1="325.80" y1="354.00" x2="329.8" y2="354.00" stroke="#5e5e5e" stroke-width="1"/>
<text x="324.6" y="356.80" font-family="Liberation Sans, sans-serif" font-size="7.4" font-weight="bold" fill="#333" stroke="#333" stroke-width="0.3" text-anchor="end">0.0</text>
<line x1="325.80" y1="333.47" x2="329.8" y2="333.47" stroke="#5e5e5e" stroke-width="1"/>
<text x="324.6" y="336.27" font-family="Liberation Sans, sans-serif" font-size="7.4" font-weight="bold" fill="#333" stroke="#333" stroke-width="0.3" text-anchor="end">0.1</text>
<line x1="325.80" y1="312.94" x2="329.8" y2="312.94" stroke="#5e5e5e" stroke-width="1"/>
<text x="324.6" y="315.74" font-family="Liberation Sans, sans-serif" font-size="7.4" font-weight="bold" fill="#333" stroke="#333" stroke-width="0.3" text-anchor="end">0.2</text>
<line x1="325.80" y1="292.41" x2="329.8" y2="292.41" stroke="#5e5e5e" stroke-width="1"/>
<text x="324.6" y="295.21" font-family="Liberation Sans, sans-serif" font-size="7.4" font-weight="bold" fill="#333" stroke="#333" stroke-width="0.3" text-anchor="end">0.3</text>
<line x1="325.80" y1="271.88" x2="329.8" y2="271.88" stroke="#5e5e5e" stroke-width="1"/>
<text x="324.6" y="274.68" font-family="Liberation Sans, sans-serif" font-size="7.4" font-weight="bold" fill="#333" stroke="#333" stroke-width="0.3" text-anchor="end">0.4</text>
<line x1="325.80" y1="251.35" x2="329.8" y2="251.35" stroke="#5e5e5e" stroke-width="1"/>
<text x="324.6" y="254.15" font-family="Liberation Sans, sans-serif" font-size="7.4" font-weight="bold" fill="#333" stroke="#333" stroke-width="0.3" text-anchor="end">0.5</text>
<line x1="325.80" y1="230.82" x2="329.8" y2="230.82" stroke="#5e5e5e" stroke-width="1"/>
<text x="324.6" y="233.62" font-family="Liberation Sans, sans-serif" font-size="7.4" font-weight="bold" fill="#333" stroke="#333" stroke-width="0.3" text-anchor="end">0.6</text>
<line x1="325.80" y1="210.29" x2="329.8" y2="210.29" stroke="#5e5e5e" stroke-width="1"/>
<text x="324.6" y="213.09" font-family="Liberation Sans, sans-serif" font-size="7.4" font-weight="bold" fill="#333" stroke="#333" stroke-width="0.3" text-anchor="end">0.7</text>
<text transform="translate(307.5,284) rotate(-90)" font-family="Liberation Sans, sans-serif" font-size="9.0" font-weight="bold" fill="#222" stroke="#222" stroke-width="0.2" text-anchor="middle">Fluorescence</text>
<line x1="343.05" y1="293.64" x2="343.05" y2="296.52" stroke="#666" stroke-width="1"/>
<line x1="340.10" y1="293.64" x2="346.00" y2="293.64" stroke="#666" stroke-width="1.2"/>
<rect x="336.80" y="296.52" width="12.5" height="57.48" fill="#7f7f7f"/>
<line x1="343.05" y1="354.00" x2="343.05" y2="357.50" stroke="#5e5e5e" stroke-width="1"/>
<text transform="translate(345.40,363.5) rotate(-45)" font-family="Liberation Sans, sans-serif" font-size="7.2" font-weight="bold" fill="#333" stroke="#333" stroke-width="0.25" text-anchor="end">F1;R1</text>
<line x1="362.40" y1="264.08" x2="362.40" y2="267.77" stroke="#666" stroke-width="1"/>
<line x1="359.45" y1="264.08" x2="365.35" y2="264.08" stroke="#666" stroke-width="1.2"/>
<rect x="356.15" y="267.77" width="12.5" height="86.23" fill="#7f7f7f"/>
<line x1="362.40" y1="354.00" x2="362.40" y2="357.50" stroke="#5e5e5e" stroke-width="1"/>
<text transform="translate(364.75,363.5) rotate(-45)" font-family="Liberation Sans, sans-serif" font-size="7.2" font-weight="bold" fill="#333" stroke="#333" stroke-width="0.25" text-anchor="end">F1;R2</text>
<line x1="381.75" y1="243.75" x2="381.75" y2="252.38" stroke="#666" stroke-width="1"/>
<line x1="378.80" y1="243.75" x2="384.70" y2="243.75" stroke="#666" stroke-width="1.2"/>
<rect x="375.50" y="252.38" width="12.5" height="101.62" fill="#7f7f7f"/>
<line x1="381.75" y1="354.00" x2="381.75" y2="357.50" stroke="#5e5e5e" stroke-width="1"/>
<text transform="translate(384.10,363.5) rotate(-45)" font-family="Liberation Sans, sans-serif" font-size="7.2" font-weight="bold" fill="#333" stroke="#333" stroke-width="0.25" text-anchor="end">F1;R3</text>
<line x1="401.10" y1="339.22" x2="401.10" y2="340.04" stroke="#666" stroke-width="1"/>
<line x1="398.15" y1="339.22" x2="404.05" y2="339.22" stroke="#666" stroke-width="1.2"/>
<rect x="394.85" y="340.04" width="12.5" height="13.96" fill="#7f7f7f"/>
<line x1="401.10" y1="354.00" x2="401.10" y2="357.50" stroke="#5e5e5e" stroke-width="1"/>
<text transform="translate(403.45,363.5) rotate(-45)" font-family="Liberation Sans, sans-serif" font-size="7.2" font-weight="bold" fill="#333" stroke="#333" stroke-width="0.25" text-anchor="end">F2;R1</text>
<line x1="420.45" y1="314.58" x2="420.45" y2="316.02" stroke="#666" stroke-width="1"/>
<line x1="417.50" y1="314.58" x2="423.40" y2="314.58" stroke="#666" stroke-width="1.2"/>
<rect x="414.20" y="316.02" width="12.5" height="37.98" fill="#7f7f7f"/>
<line x1="420.45" y1="354.00" x2="420.45" y2="357.50" stroke="#5e5e5e" stroke-width="1"/>
<text transform="translate(422.80,363.5) rotate(-45)" font-family="Liberation Sans, sans-serif" font-size="7.2" font-weight="bold" fill="#333" stroke="#333" stroke-width="0.25" text-anchor="end">F2;R2</text>
<line x1="439.80" y1="271.88" x2="439.80" y2="274.96" stroke="#666" stroke-width="1"/>
<line x1="436.85" y1="271.88" x2="442.75" y2="271.88" stroke="#666" stroke-width="1.2"/>
<rect x="433.55" y="274.96" width="12.5" height="79.04" fill="#7f7f7f"/>
<line x1="439.80" y1="354.00" x2="439.80" y2="357.50" stroke="#5e5e5e" stroke-width="1"/>
<text transform="translate(442.15,363.5) rotate(-45)" font-family="Liberation Sans, sans-serif" font-size="7.2" font-weight="bold" fill="#333" stroke="#333" stroke-width="0.25" text-anchor="end">F2;R3</text>
<line x1="459.15" y1="280.09" x2="459.15" y2="283.17" stroke="#666" stroke-width="1"/>
<line x1="456.20" y1="280.09" x2="462.10" y2="280.09" stroke="#666" stroke-width="1.2"/>
<rect x="452.90" y="283.17" width="12.5" height="70.83" fill="#7f7f7f"/>
<line x1="459.15" y1="354.00" x2="459.15" y2="357.50" stroke="#5e5e5e" stroke-width="1"/>
<text transform="translate(461.50,363.5) rotate(-45)" font-family="Liberation Sans, sans-serif" font-size="7.2" font-weight="bold" fill="#333" stroke="#333" stroke-width="0.25" text-anchor="end">F3;R1</text>
<line x1="478.50" y1="221.79" x2="478.50" y2="225.89" stroke="#666" stroke-width="1"/>
<line x1="475.55" y1="221.79" x2="481.45" y2="221.79" stroke="#666" stroke-width="1.2"/>
<rect x="472.25" y="225.89" width="12.5" height="128.11" fill="#7f7f7f"/>
<line x1="478.50" y1="354.00" x2="478.50" y2="357.50" stroke="#5e5e5e" stroke-width="1"/>
<text transform="translate(480.85,363.5) rotate(-45)" font-family="Liberation Sans, sans-serif" font-size="7.2" font-weight="bold" fill="#333" stroke="#333" stroke-width="0.25" text-anchor="end">F3;R2</text>
<line x1="497.85" y1="308.83" x2="497.85" y2="311.71" stroke="#666" stroke-width="1"/>
<line x1="494.90" y1="308.83" x2="500.80" y2="308.83" stroke="#666" stroke-width="1.2"/>
<rect x="491.60" y="311.71" width="12.5" height="42.29" fill="#7f7f7f"/>
<line x1="497.85" y1="354.00" x2="497.85" y2="357.50" stroke="#5e5e5e" stroke-width="1"/>
<text transform="translate(500.20,363.5) rotate(-45)" font-family="Liberation Sans, sans-serif" font-size="7.2" font-weight="bold" fill="#333" stroke="#333" stroke-width="0.25" text-anchor="end">F3;R3</text>
<rect x="510.95" y="343.12" width="12.5" height="10.88" fill="#000"/>
<line x1="517.20" y1="354.00" x2="517.20" y2="357.50" stroke="#5e5e5e" stroke-width="1"/>
<text transform="translate(519.55,363.5) rotate(-45)" font-family="Liberation Sans, sans-serif" font-size="7.2" font-weight="bold" fill="#333" stroke="#333" stroke-width="0.25" text-anchor="end">NTC</text>
</svg>
</body></html>
